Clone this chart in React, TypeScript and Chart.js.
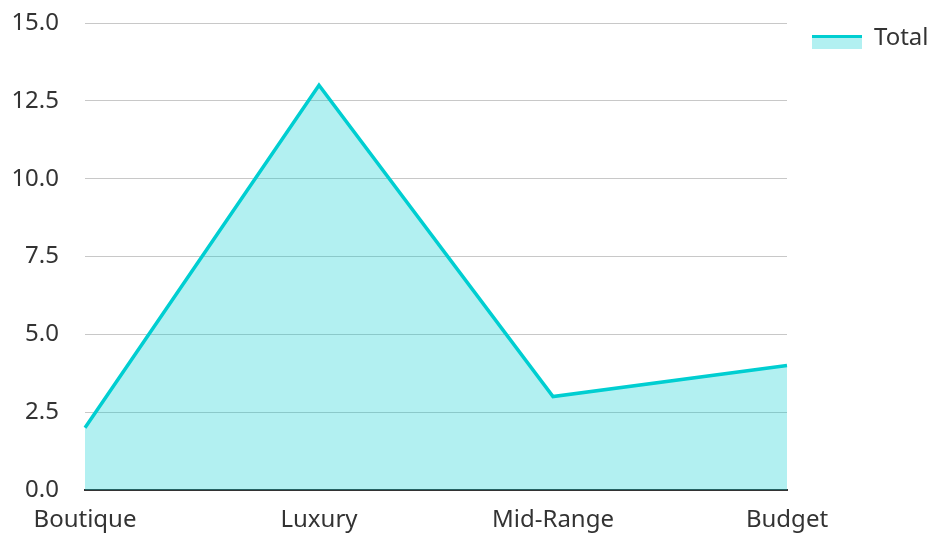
import React, { useEffect, useRef } from "react";
import { Chart, registerables } from "chart.js";

Chart.register(...registerables);

const categories = ["Boutique", "Luxury", "Mid-Range", "Budget"];
const totalValues = [2, 13, 3, 4];
const seriesLabel = "Total";
const yMin = 0;
const yMax = 15;
const yStep = 2.5;

const LINE = "#00CED1";
const FILL = "rgba(0, 206, 209, 0.3)";
const FONT = "'Noto Sans', 'Open Sans', sans-serif";
const TEXT = "#333";

function makeLegendSwatch(): HTMLCanvasElement {
  const c = document.createElement("canvas");
  c.width = 50;
  c.height = 22;
  const ctx = c.getContext("2d")!;
  ctx.fillStyle = FILL;
  ctx.fillRect(0, 8, 50, 14);
  ctx.fillStyle = LINE;
  ctx.fillRect(0, 8, 50, 3);
  return c;
}

export default function App() {
  const ref = useRef<HTMLCanvasElement | null>(null);

  useEffect(() => {
    document.body.style.margin = "0";
    if (!ref.current) return;
    const swatch = makeLegendSwatch();
    const chart = new Chart(ref.current, {
      type: "line",
      data: {
        labels: categories,
        datasets: [
          {
            label: seriesLabel,
            data: totalValues,
            borderColor: LINE,
            backgroundColor: FILL,
            borderWidth: 3.5,
            fill: true,
            tension: 0,
            pointRadius: 0,
            pointHoverRadius: 0,
            pointStyle: swatch as any,
          },
        ],
      },
      options: {
        animation: false,
        responsive: false,
        maintainAspectRatio: false,
        layout: { padding: { top: 1, left: 12, right: 0, bottom: 0 } },
        plugins: {
          legend: {
            position: "right",
            align: "start",
            maxWidth: 141,
            labels: {
              usePointStyle: true,
              pointStyleWidth: 50,
              boxHeight: 14,
              color: TEXT,
              font: { family: FONT, size: 24 },
              padding: 25,
            },
          },
          tooltip: { enabled: false },
        },
        scales: {
          x: {
            offset: false,
            grid: { display: false },
            border: { display: true, color: "#333", width: 2 },
            ticks: {
              color: TEXT,
              font: { family: FONT, size: 24 },
              padding: 8,
              maxRotation: 0,
              autoSkip: false,
            },
            afterFit: (scale: any) => {
              scale.height = 44;
            },
          },
          y: {
            min: yMin,
            max: yMax,
            grid: { color: "#c8c8c8", drawTicks: false },
            border: { display: false },
            ticks: {
              stepSize: yStep,
              color: TEXT,
              font: { family: FONT, size: 24 },
              padding: 26,
              callback: (v: any) => Number(v).toFixed(1),
            },
            afterFit: (scale: any) => {
              scale.width = 73;
              scale.paddingTop = 23;
              scale.paddingBottom = 0;
            },
          },
        },
      },
    });
    return () => chart.destroy();
  }, []);

  return (
    <div style={{ width: 928, height: 534 }}>
      <canvas ref={ref} width={928} height={534} style={{ display: "block" }} />
    </div>
  );
}
